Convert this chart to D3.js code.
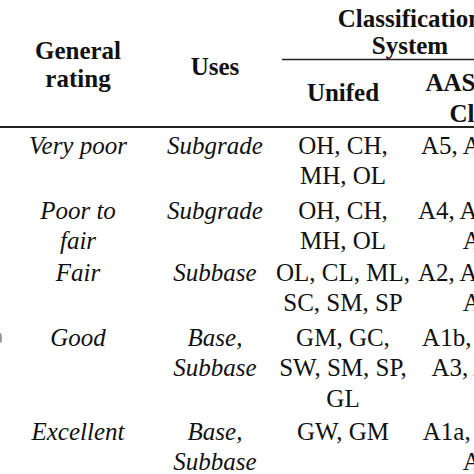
<!DOCTYPE html>
<html><head><meta charset="utf-8">
<script src="https://cdn.jsdelivr.net/npm/d3@7"></script>
<style>body{margin:0;background:#fff}svg{display:block}</style>
</head><body><svg id="c" width="474" height="474"></svg>
<script>
const ratings = [["Very poor"],["Poor to","fair"],["Fair"],["Good"],["Excellent"]];
const uses = [["Subgrade"],["Subgrade"],["Subbase"],["Base,","Subbase"],["Base,","Subbase"]];
const unified = [["OH, CH,","MH, OL"],["OH, CH,","MH, OL"],["OL, CL, ML,","SC, SM, SP"],["GM, GC,","SW, SM, SP,","GL"],["GW, GM"]];
const aashto = [["A5, A6, A7"],["A4, A5, A6,","A7"],["A2, A4, A6,","A7"],["A1b, A2-5,","A3, A2-6"],["A1a, A2-4,","A3"]];
const rowTops = [145,210,272,337,431];
const colX = [78,215,343,478];

const svg = d3.select("#c");
const font = "'Liberation Serif', serif";
const lh = 30.5;

const headers = [
  {x:colX[0], y:[50,78], t:["General","rating"]},
  {x:colX[1], y:[66], t:["Uses"]},
  {x:410, y:[18,45], t:["Classification","System"]},
  {x:colX[2], y:[92], t:["Unifed"]},
  {x:colX[3], y:[82,113], t:["AASHTO","Class"]}
];
headers.forEach(h=>{
  svg.append("g").selectAll("text").data(h.t).join("text")
    .attr("x",h.x).attr("y",(d,i)=>h.y[i]).attr("dy","0.35em")
    .attr("text-anchor","middle").attr("font-family",font)
    .attr("font-weight","bold").attr("font-size",25).attr("fill","#111").text(d=>d);
});
svg.append("line").attr("x1",282).attr("x2",474).attr("y1",59.5).attr("y2",59.5).attr("stroke","#222").attr("stroke-width",1.5);
svg.append("line").attr("x1",0).attr("x2",474).attr("y1",127).attr("y2",127).attr("stroke","#222").attr("stroke-width",2);

const cols = [ratings, uses, unified, aashto];
cols.forEach((col,ci)=>{
  col.forEach((lines,ri)=>{
    svg.append("g").selectAll("text").data(lines).join("text")
      .attr("x",colX[ci]).attr("y",(d,i)=>rowTops[ri]+i*lh).attr("dy","0.35em")
      .attr("text-anchor","middle").attr("font-family",font)
      .attr("font-style",ci<2?"italic":"normal")
      .attr("font-size",25).attr("fill","#111").text(d=>d);
  });
});
svg.append("ellipse").attr("cx",0).attr("cy",338).attr("rx",2).attr("ry",5).attr("fill","#999");
</script></body></html>
